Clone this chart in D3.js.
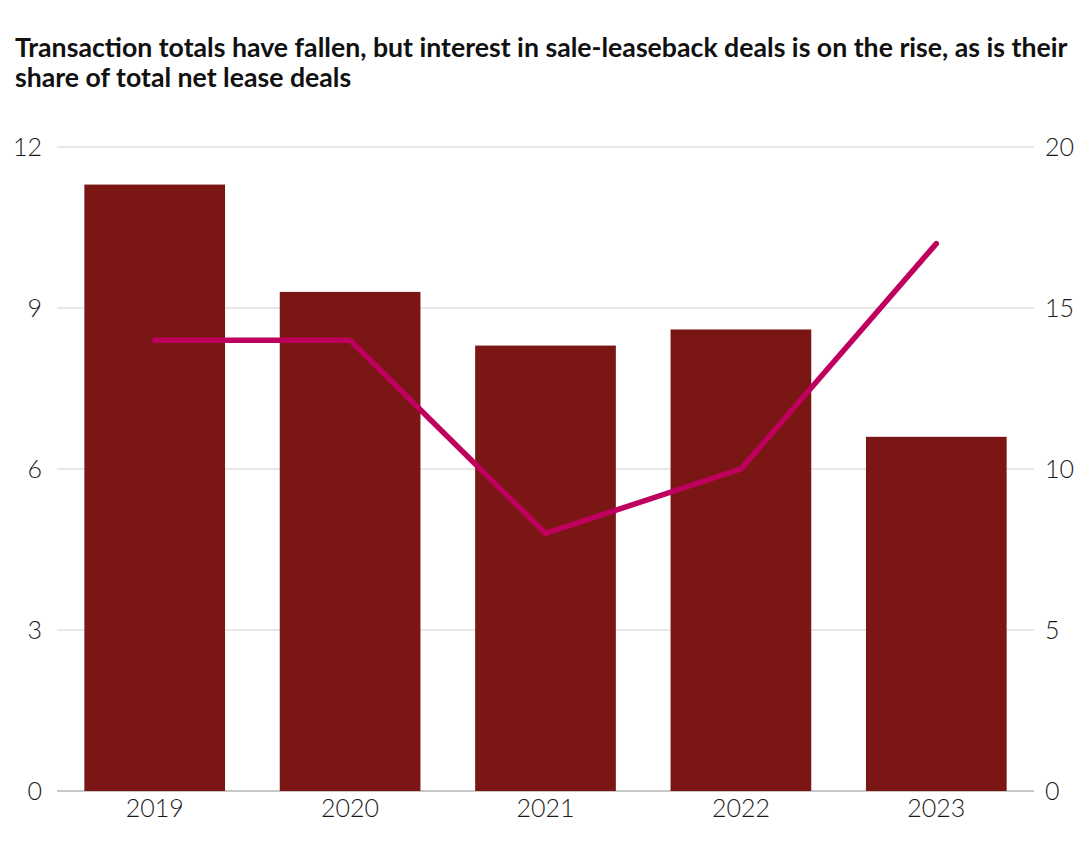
<!DOCTYPE html>
<html>
<head>
<meta charset="utf-8">
<script src="https://cdn.jsdelivr.net/npm/d3@7"></script>
<style>
  body { margin: 0; background: #fff; }
  svg { font-family: Lato, "Open Sans", sans-serif; }
</style>
</head>
<body>
<svg width="1088" height="846"></svg>
<script>
const YEARS = ['2019', '2020', '2021', '2022', '2023'];
const TOTALS = [11.3, 9.3, 8.3, 8.6, 6.6];      // bars, left axis
const SHARE = [14, 14, 8, 10, 17];              // line, right axis
const LEFT_TICKS = [0, 3, 6, 9, 12];
const RIGHT_TICKS = [0, 5, 10, 15, 20];
const TITLE = [
    'Transaction totals have fallen, but interest in sale-leaseback deals is on the rise, as is their',
    'share of total net lease deals'
];

const svg = d3.select('svg');
const plotLeft = 57, plotRight = 1034, plotTop = 147, plotBottom = 791;

const x = d3.scaleBand()
    .domain(YEARS)
    .range([plotLeft, plotRight])
    .paddingInner(0.28)
    .paddingOuter(0.14);
const yL = d3.scaleLinear().domain([0, 12]).range([plotBottom, plotTop]);
const yR = d3.scaleLinear().domain([0, 20]).range([plotBottom, plotTop]);

// title
const title = svg.append('text')
    .attr('font-weight', 700)
    .attr('font-size', 22)
    .attr('fill', '#111');
title.selectAll('tspan')
    .data(TITLE)
    .enter()
    .append('tspan')
    .attr('x', 15)
    .attr('y', (d, i) => 57 + i * 30)
    .text(d => d);
// squeeze the first line to the reference width
const w0 = title.select('tspan').node().getComputedTextLength();
title.attr('font-size', 22 * 1053 / w0);

// grid lines
svg.append('g')
    .selectAll('line')
    .data(LEFT_TICKS)
    .enter()
    .append('line')
    .attr('x1', plotLeft)
    .attr('x2', plotRight)
    .attr('y1', d => yL(d))
    .attr('y2', d => yL(d))
    .attr('stroke', d => d === 0 ? '#c8c8c8' : '#d0d0d0')
    .attr('stroke-width', d => d === 0 ? 2 : 1.2);

// bars
svg.append('g')
    .selectAll('rect')
    .data(TOTALS)
    .enter()
    .append('rect')
    .attr('x', (d, i) => x(YEARS[i]))
    .attr('width', x.bandwidth())
    .attr('y', d => yL(d))
    .attr('height', d => yL(0) - yL(d))
    .attr('fill', '#7a1614');

// line
const line = d3.line()
    .x((d, i) => x(YEARS[i]) + x.bandwidth() / 2)
    .y(d => yR(d));
svg.append('path')
    .datum(SHARE)
    .attr('d', line)
    .attr('fill', 'none')
    .attr('stroke', '#c0005e')
    .attr('stroke-width', 5.5)
    .attr('stroke-linecap', 'round')
    .attr('stroke-linejoin', 'miter');

// axes
const leftAxis = d3.axisLeft(yL).tickValues(LEFT_TICKS).tickSize(0).tickPadding(15);
const rightAxis = d3.axisRight(yR).tickValues(RIGHT_TICKS).tickSize(0).tickPadding(11);
const bottomAxis = d3.axisBottom(x).tickSize(0).tickPadding(8);

svg.append('g')
    .attr('transform', `translate(${plotLeft},0)`)
    .call(leftAxis)
    .call(g => g.select('.domain').remove());
svg.append('g')
    .attr('transform', `translate(${plotRight},0)`)
    .call(rightAxis)
    .call(g => g.select('.domain').remove());
svg.append('g')
    .attr('transform', `translate(0,${plotBottom})`)
    .call(bottomAxis)
    .call(g => g.select('.domain').remove());

svg.selectAll('.tick text')
    .attr('font-family', 'Lato, "Open Sans", sans-serif')
    .attr('font-weight', 300)
    .attr('font-size', 25)
    .attr('fill', '#1a1a1a');
</script>
</body>
</html>
